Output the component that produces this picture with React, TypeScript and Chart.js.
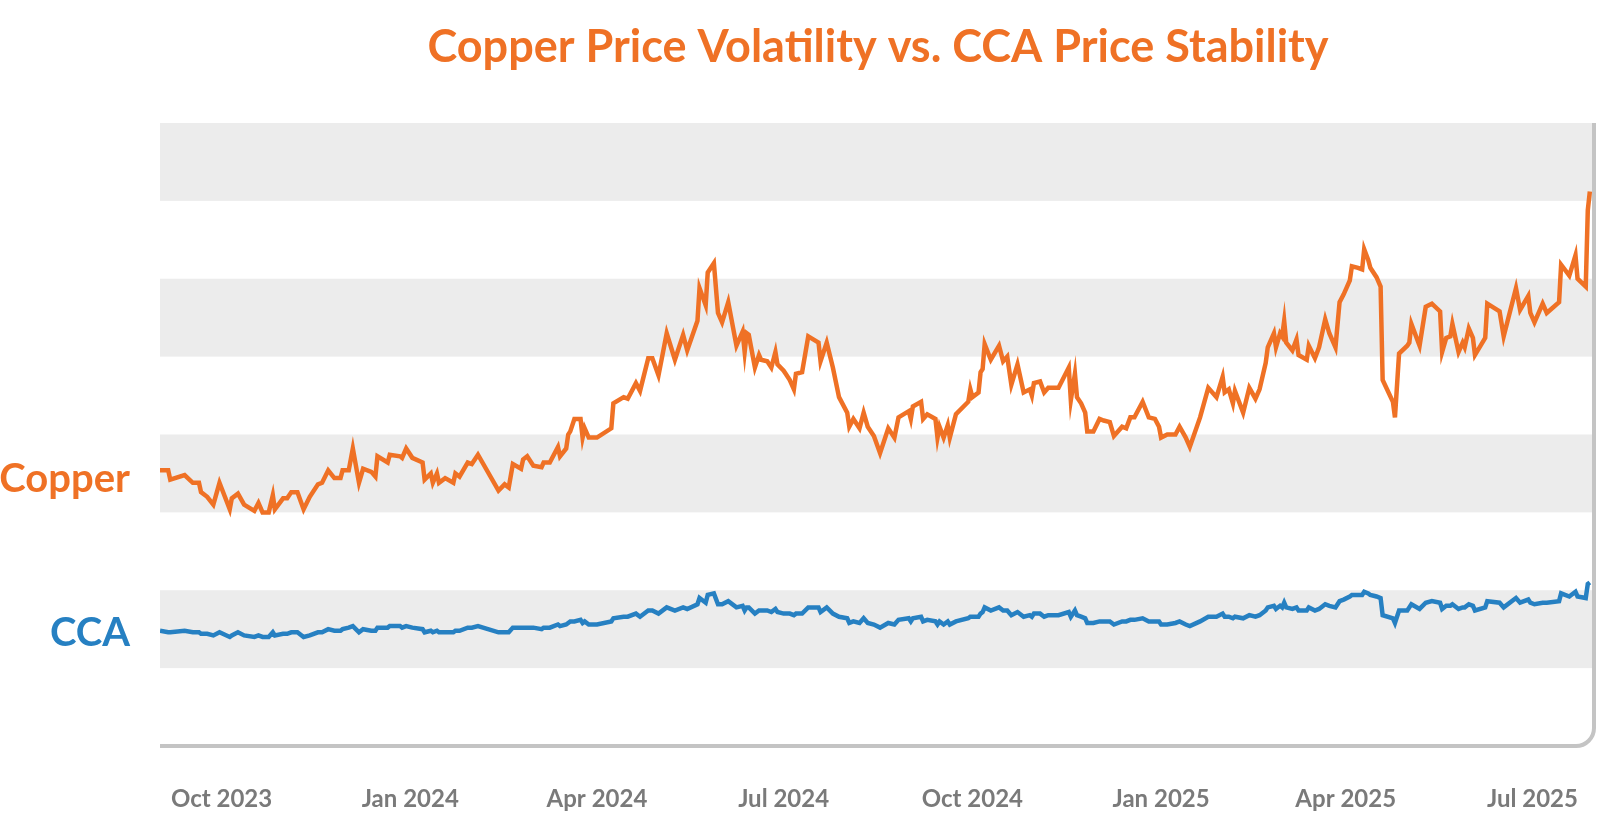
import { useEffect, useRef } from "react";
import { Chart, registerables } from "chart.js";

Chart.register(...registerables);

// Trading days, counted from 1 Sep 2023
const tradeDay = [
  0, 4, 5, 12, 16, 19, 20, 23, 26, 29,
  34, 35, 38, 41, 46, 48, 50, 53, 55, 56,
  60, 62, 64, 67, 70, 73, 77, 79, 82, 85,
  88, 89, 92, 94, 97, 99, 103, 105, 106, 111,
  112, 117, 118, 120, 123, 128, 129, 132, 133, 135,
  136, 139, 143, 144, 146, 150, 152, 155, 165, 168,
  170, 172, 176, 177, 179, 182, 186, 187, 190, 194,
  195, 198, 199, 200, 202, 205, 206, 207, 209, 213,
  220, 221, 226, 228, 232, 234, 238, 240, 243, 247,
  251, 255, 257, 262, 263, 266, 267, 270, 272, 274,
  277, 281, 284, 285, 286, 287, 290, 292, 293, 296,
  298, 300, 301, 304, 305, 307, 309, 310, 313, 316,
  321, 322, 325, 328, 331, 335, 336, 338, 341, 343,
  345, 348, 351, 355, 358, 360, 365, 366, 367, 371,
  372, 374, 378, 379, 380, 382, 384, 385, 388, 394,
  395, 396, 399, 400, 401, 402, 405, 409, 411, 413,
  415, 418, 421, 424, 425, 426, 429, 431, 433, 438,
  443, 444, 446, 447, 449, 451, 452, 455, 458, 460,
  463, 465, 469, 471, 473, 475, 479, 482, 485, 487,
  488, 491, 495, 497, 500, 502, 507, 511, 515, 518,
  519, 521, 523, 524, 528, 531, 534, 536, 539, 540,
  543, 544, 546, 547, 548, 549, 552, 554, 555, 559,
  560, 563, 565, 568, 570, 573, 575, 577, 580, 581,
  584, 586, 587, 589, 590, 593, 595, 596, 601, 602,
  604, 608, 609, 610, 614, 617, 620, 624, 625, 627,
  629, 630, 633, 635, 636, 638, 640, 641, 646, 647,
  653, 655, 661, 663, 667, 668, 670, 674, 676, 682,
  683, 687, 690, 691, 695, 696, 697,
];

// Copper, USD per lb
const copperPrice = [
  3.77, 3.77, 3.71, 3.74, 3.69, 3.69, 3.63, 3.60, 3.55, 3.69,
  3.52, 3.59, 3.62, 3.55, 3.51, 3.56, 3.50, 3.50, 3.61, 3.52,
  3.59, 3.59, 3.63, 3.63, 3.52, 3.60, 3.68, 3.69, 3.77, 3.72,
  3.72, 3.77, 3.77, 3.91, 3.69, 3.78, 3.76, 3.73, 3.86, 3.82,
  3.87, 3.86, 3.85, 3.91, 3.85, 3.82, 3.71, 3.75, 3.69, 3.75,
  3.69, 3.72, 3.69, 3.75, 3.73, 3.82, 3.81, 3.87, 3.64, 3.68,
  3.66, 3.81, 3.78, 3.84, 3.86, 3.80, 3.79, 3.82, 3.82, 3.92,
  3.86, 3.91, 4.00, 4.02, 4.10, 4.10, 3.98, 4.04, 3.98, 3.98,
  4.04, 4.20, 4.24, 4.23, 4.33, 4.28, 4.49, 4.49, 4.38, 4.65,
  4.48, 4.64, 4.54, 4.73, 4.94, 4.83, 5.04, 5.10, 4.78, 4.72,
  4.85, 4.57, 4.66, 4.53, 4.65, 4.64, 4.43, 4.51, 4.48, 4.47,
  4.43, 4.53, 4.45, 4.41, 4.39, 4.35, 4.29, 4.39, 4.40, 4.63,
  4.59, 4.47, 4.59, 4.43, 4.24, 4.14, 4.05, 4.10, 4.04, 4.14,
  4.05, 3.99, 3.88, 4.04, 3.98, 4.11, 4.15, 4.10, 4.18, 4.21,
  4.10, 4.13, 4.10, 3.98, 4.05, 3.98, 4.06, 3.98, 4.13, 4.21,
  4.29, 4.24, 4.27, 4.40, 4.42, 4.58, 4.48, 4.57, 4.47, 4.50,
  4.32, 4.45, 4.27, 4.29, 4.25, 4.33, 4.34, 4.27, 4.30, 4.30,
  4.43, 4.22, 4.39, 4.24, 4.20, 4.14, 4.02, 4.02, 4.10, 4.09,
  4.08, 3.99, 4.05, 4.04, 4.11, 4.11, 4.21, 4.11, 4.10, 4.05,
  3.98, 4.00, 4.00, 4.05, 3.98, 3.92, 4.11, 4.30, 4.24, 4.37,
  4.27, 4.29, 4.20, 4.28, 4.14, 4.30, 4.23, 4.29, 4.46, 4.56,
  4.65, 4.56, 4.65, 4.63, 4.73, 4.59, 4.54, 4.61, 4.51, 4.48,
  4.57, 4.49, 4.56, 4.74, 4.65, 4.56, 4.85, 4.90, 4.99, 5.08,
  5.07, 5.06, 5.19, 5.12, 5.07, 5.01, 4.95, 4.35, 4.21, 4.11,
  4.52, 4.57, 4.59, 4.71, 4.57, 4.82, 4.84, 4.79, 4.53, 4.62,
  4.63, 4.71, 4.53, 4.59, 4.56, 4.68, 4.62, 4.51, 4.62, 4.84,
  4.79, 4.63, 4.94, 4.80, 4.89, 4.78, 4.72, 4.84, 4.78, 4.85,
  5.09, 5.02, 5.15, 5.00, 4.95, 5.44, 5.56,
];

// Copper-clad aluminium, USD per lb
const ccaPrice = [
  2.74, 2.73, 2.73, 2.74, 2.73, 2.73, 2.72, 2.72, 2.71, 2.73,
  2.70, 2.71, 2.73, 2.71, 2.70, 2.71, 2.70, 2.70, 2.73, 2.71,
  2.72, 2.72, 2.73, 2.73, 2.70, 2.71, 2.73, 2.73, 2.75, 2.74,
  2.74, 2.75, 2.76, 2.77, 2.73, 2.75, 2.74, 2.74, 2.76, 2.76,
  2.77, 2.77, 2.76, 2.77, 2.76, 2.75, 2.73, 2.74, 2.73, 2.74,
  2.73, 2.73, 2.73, 2.74, 2.74, 2.76, 2.76, 2.77, 2.73, 2.73,
  2.73, 2.76, 2.76, 2.76, 2.76, 2.76, 2.75, 2.76, 2.76, 2.78,
  2.77, 2.78, 2.79, 2.80, 2.80, 2.81, 2.79, 2.80, 2.78, 2.78,
  2.80, 2.82, 2.83, 2.83, 2.85, 2.83, 2.87, 2.87, 2.85, 2.89,
  2.87, 2.89, 2.88, 2.91, 2.95, 2.92, 2.97, 2.98, 2.91, 2.91,
  2.93, 2.89, 2.90, 2.87, 2.89, 2.89, 2.85, 2.87, 2.87, 2.87,
  2.86, 2.88, 2.86, 2.85, 2.85, 2.85, 2.84, 2.85, 2.85, 2.89,
  2.89, 2.86, 2.89, 2.85, 2.83, 2.82, 2.79, 2.80, 2.79, 2.82,
  2.79, 2.78, 2.76, 2.79, 2.78, 2.81, 2.82, 2.80, 2.82, 2.83,
  2.80, 2.81, 2.80, 2.78, 2.80, 2.78, 2.80, 2.78, 2.80, 2.82,
  2.83, 2.83, 2.83, 2.85, 2.86, 2.89, 2.87, 2.89, 2.87, 2.87,
  2.84, 2.86, 2.83, 2.84, 2.83, 2.85, 2.85, 2.83, 2.84, 2.84,
  2.86, 2.83, 2.87, 2.84, 2.83, 2.82, 2.79, 2.79, 2.80, 2.80,
  2.80, 2.78, 2.80, 2.80, 2.81, 2.81, 2.82, 2.80, 2.80, 2.80,
  2.78, 2.78, 2.79, 2.80, 2.78, 2.77, 2.80, 2.83, 2.83, 2.85,
  2.83, 2.83, 2.82, 2.83, 2.82, 2.84, 2.83, 2.84, 2.87, 2.89,
  2.90, 2.88, 2.90, 2.89, 2.92, 2.89, 2.88, 2.89, 2.87, 2.87,
  2.89, 2.87, 2.88, 2.91, 2.90, 2.89, 2.93, 2.94, 2.96, 2.97,
  2.97, 2.97, 2.99, 2.98, 2.97, 2.96, 2.95, 2.84, 2.82, 2.79,
  2.87, 2.87, 2.89, 2.91, 2.88, 2.92, 2.93, 2.92, 2.88, 2.90,
  2.90, 2.91, 2.88, 2.89, 2.89, 2.91, 2.90, 2.87, 2.89, 2.93,
  2.92, 2.89, 2.95, 2.92, 2.94, 2.92, 2.91, 2.92, 2.92, 2.93,
  2.98, 2.96, 2.99, 2.96, 2.95, 3.04, 3.05,
];

const tickMonths = [
  "2023-10-01", "2024-01-01", "2024-04-01", "2024-07-01",
  "2024-10-01", "2025-01-01", "2025-04-01", "2025-07-01",
];
const tickLabels = [
  "Oct 2023", "Jan 2024", "Apr 2024", "Jul 2024",
  "Oct 2024", "Jan 2025", "Apr 2025", "Jul 2025",
];

const ORIGIN = Date.UTC(2023, 8, 1);
const dayOf = (iso: string) => Math.round((Date.parse(iso) - ORIGIN) / 86400000);
const tickDays = tickMonths.map(dayOf);

const ORANGE = "#ef7125";
const BLUE = "#2680c2";
const FONT = "Lato, 'Open Sans', sans-serif";

// alternating horizontal bands every 0.5 on the value axis
const bandsPlugin = {
  id: "bands",
  beforeDatasetsDraw(chart: any) {
    const { ctx, chartArea, scales } = chart;
    const y = scales.y;
    ctx.save();
    ctx.fillStyle = "#ececec";
    let k = 0;
    for (let v = y.min; v < y.max - 1e-9; v += 0.5, k++) {
      if (k % 2 === 1) {
        const top = y.getPixelForValue(v + 0.5);
        const bottom = y.getPixelForValue(v);
        ctx.fillRect(chartArea.left, top, chartArea.right - 4 - chartArea.left, bottom - top);
      }
    }
    ctx.restore();
  },
};

// bottom and right frame with a rounded corner
const framePlugin = {
  id: "frame",
  afterDatasetsDraw(chart: any) {
    const { ctx, chartArea } = chart;
    const r = 18;
    const x = chartArea.right - 2;
    const b = chartArea.bottom;
    ctx.save();
    ctx.strokeStyle = "#c4c4c4";
    ctx.lineWidth = 4;
    ctx.beginPath();
    ctx.moveTo(chartArea.left, b);
    ctx.lineTo(x - r, b);
    ctx.arcTo(x, b, x, b - r, r);
    ctx.lineTo(x, chartArea.top);
    ctx.stroke();
    ctx.restore();
  },
};

// series names drawn to the left of each line's start
const seriesNamePlugin = {
  id: "seriesNames",
  afterDraw(chart: any) {
    const { ctx, chartArea, scales } = chart;
    ctx.save();
    ctx.textAlign = "right";
    ctx.textBaseline = "middle";
    ctx.font = `bold 40px ${FONT}`;
    chart.data.datasets.forEach((ds: any) => {
      const first = ds.data[0];
      const y = scales.y.getPixelForValue(first.y) + (ds.nameNudge || 0);
      ctx.fillStyle = ds.borderColor;
      ctx.fillText(ds.label, chartArea.left - 30, y);
    });
    ctx.restore();
  },
};

export default function App() {
  const canvasRef = useRef<HTMLCanvasElement | null>(null);

  useEffect(() => {
    const canvas = canvasRef.current;
    if (!canvas) return;
    const chart = new Chart(canvas, {
      type: "line",
      data: {
        datasets: [
          {
            label: "Copper",
            data: tradeDay.map((d, i) => ({ x: d, y: copperPrice[i] })),
            borderColor: ORANGE,
            borderWidth: 4.5,
            pointRadius: 0,
            tension: 0,
            nameNudge: 9,
          } as any,
          {
            label: "CCA",
            data: tradeDay.map((d, i) => ({ x: d, y: ccaPrice[i] })),
            borderColor: BLUE,
            borderWidth: 4.5,
            pointRadius: 0,
            tension: 0,
            nameNudge: 2,
          } as any,
        ],
      },
      options: {
        responsive: false,
        animation: false,
        events: [],
        layout: { padding: { left: 160, right: 2, top: 0, bottom: 0 } },
        plugins: {
          legend: { display: false },
          tooltip: { enabled: false },
          title: {
            display: true,
            text: "Copper Price Volatility vs. CCA Price Stability",
            color: ORANGE,
            font: { family: FONT, size: 45, weight: "bold" },
            padding: { top: 20, bottom: 49 },
          },
        },
        scales: {
          x: {
            type: "linear",
            min: 0,
            max: dayOf("2025-08-01"),
            grid: { display: false },
            border: { display: false },
            afterFit(scale: any) {
              scale.height = 92;
              scale.paddingLeft = 0;
              scale.paddingRight = 0;
            },
            afterBuildTicks(scale: any) {
              scale.ticks = tickDays.map((v) => ({ value: v }));
            },
            ticks: {
              autoSkip: false,
              maxRotation: 0,
              padding: 31,
              color: "#7a7a7a",
              font: { family: FONT, size: 24, weight: "bold" },
              callback: (value: any) => {
                const i = tickDays.indexOf(Number(value));
                return i >= 0 ? tickLabels[i] : "";
              },
            },
          },
          y: {
            type: "linear",
            display: false,
            min: 2,
            max: 6,
            ticks: { stepSize: 0.5 },
          },
        },
      },
      plugins: [bandsPlugin, framePlugin, seriesNamePlugin],
    });
    return () => chart.destroy();
  }, []);

  return (
    <div style={{ position: "absolute", left: 0, top: 0, width: 1598, height: 838, background: "#ffffff" }}>
      <canvas ref={canvasRef} width={1598} height={838} />
    </div>
  );
}
